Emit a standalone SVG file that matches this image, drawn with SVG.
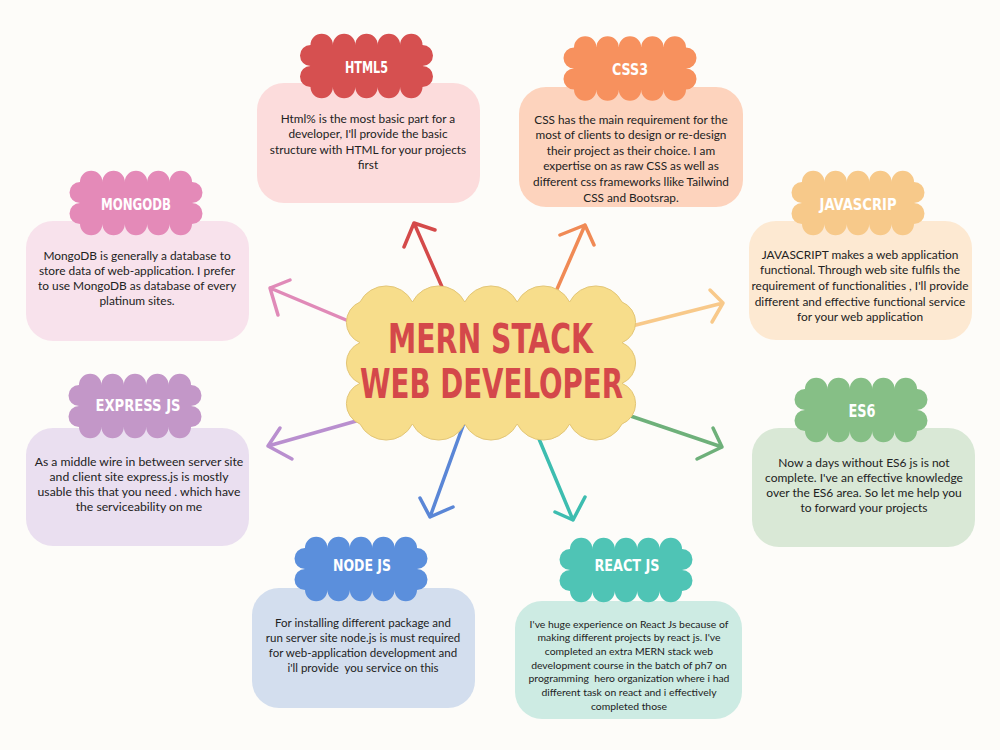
<svg xmlns="http://www.w3.org/2000/svg" width="1000" height="750" viewBox="0 0 1000 750">
  <style>
    .box { stroke: none; }
    .ttl { font-family: "DejaVu Sans Condensed", "DejaVu Sans", sans-serif; font-weight: bold; font-size: 16px; fill: #ffffff; text-anchor: middle; }
    .body { font-family: Lato, "Noto Sans", sans-serif; font-size: 11.9px; fill: #222222; text-anchor: middle; }
    .conn path { fill: none; stroke-width: 3.5; stroke-linecap: round; stroke-linejoin: round; }
    .main { font-family: "DejaVu Sans Condensed", "DejaVu Sans", sans-serif; font-weight: bold; font-size: 40px; fill: #d4484a; text-anchor: middle; }
  </style>
  <defs>
    <path id="cloud" d="M-56,-21 A11.2,11.2 0 0 1 -33.6,-21 A11.2,11.2 0 0 1 -11.2,-21 A11.2,11.2 0 0 1 11.2,-21 A11.2,11.2 0 0 1 33.6,-21 A11.2,11.2 0 0 1 56,-21 A10.5,10.5 0 0 1 56,0 A10.5,10.5 0 0 1 56,21 A11.2,11.2 0 0 1 33.6,21 A11.2,11.2 0 0 1 11.2,21 A11.2,11.2 0 0 1 -11.2,21 A11.2,11.2 0 0 1 -33.6,21 A11.2,11.2 0 0 1 -56,21 A10.5,10.5 0 0 1 -56,0 A10.5,10.5 0 0 1 -56,-21 Z"/>
  </defs>
  <rect x="0" y="0" width="1000" height="750" fill="#fdfcf9"/>

  <g id="connectors" class="conn">
    <path stroke="#d44a4a" d="M446,296 L414,223 M404,247 L414,223 L435,230"/>
    <path stroke="#f08a55" d="M554,296 L585,225 M560,235 L585,225 L594,245"/>
    <path stroke="#e08ab8" d="M358,325 L270,288 M290,280 L270,288 L278,315"/>
    <path stroke="#f8c98a" d="M628,327 L723,303 M710,290 L723,303 L712,322"/>
    <path stroke="#b98fcf" d="M381,414 L268,446 M280,428 L268,446 L292,459"/>
    <path stroke="#6eb07a" d="M610,409 L722,447 M713,428 L722,447 L697,459"/>
    <path stroke="#5a86d6" d="M464,423 L430,517 M420,498 L430,517 L453,507"/>
    <path stroke="#3dbdb0" d="M534,427 L573,520 M555,512 L573,520 L585,497"/>
  </g>

  <g id="center">
    <path fill="#f7dd8b" stroke="#e3c677" stroke-width="1" d="M360,302 A29.4,29.4 0 0 1 412.4,302 A29.4,29.4 0 0 1 464.8,302 A29.4,29.4 0 0 1 517.2,302 A29.4,29.4 0 0 1 569.6,302 A29.4,29.4 0 0 1 622,302 A22,22 0 0 1 622,342.67 A22,22 0 0 1 622,383.33 A22,22 0 0 1 622,424 A29.4,29.4 0 0 1 569.6,424 A29.4,29.4 0 0 1 517.2,424 A29.4,29.4 0 0 1 464.8,424 A29.4,29.4 0 0 1 412.4,424 A29.4,29.4 0 0 1 360,424 A22,22 0 0 1 360,383.33 A22,22 0 0 1 360,342.67 A22,22 0 0 1 360,302 Z"/>
    <text class="main" x="490.5" y="353" textLength="205" lengthAdjust="spacingAndGlyphs">MERN STACK</text>
    <text class="main" x="491.5" y="398" textLength="263" lengthAdjust="spacingAndGlyphs">WEB DEVELOPER</text>
  </g>

  <g id="html5">
    <rect class="box" x="257" y="83" width="223" height="120" rx="27" fill="#fcdcdc"/>
    <use href="#cloud" transform="translate(366.5,66)" fill="#d65050"/>
    <text class="ttl" x="366.5" y="73" textLength="43" lengthAdjust="spacingAndGlyphs">HTML5</text>
    <text class="body" x="368" y="122.5" style="font-size:11.8px">Html% is the most basic part for a</text>
    <text class="body" x="368" y="138" style="font-size:11.8px">developer, I'll provide the basic</text>
    <text class="body" x="368" y="153.5" style="font-size:11.8px">structure with HTML for your projects</text>
    <text class="body" x="368" y="169" style="font-size:11.8px">first</text>
  </g>

  <g id="css3">
    <rect class="box" x="519" y="87" width="224" height="120" rx="27" fill="#fdd3bd"/>
    <use href="#cloud" transform="translate(630,68.5)" fill="#f7915e"/>
    <text class="ttl" x="630" y="75" textLength="36" lengthAdjust="spacingAndGlyphs">CSS3</text>
    <text class="body" x="631" y="123.5" style="font-size:11.8px">CSS has the main requirement for the</text>
    <text class="body" x="631" y="139.1" style="font-size:11.8px">most of clients to design or re-design</text>
    <text class="body" x="631" y="154.7" style="font-size:11.8px">their project as their choice. I am</text>
    <text class="body" x="631" y="170.3" style="font-size:11.8px">expertise on as raw CSS as well as</text>
    <text class="body" x="631" y="185.9" style="font-size:11.8px">different css frameworks llike Tailwind</text>
    <text class="body" x="631" y="201.5" style="font-size:11.8px">CSS and Bootsrap.</text>
  </g>

  <g id="mongodb">
    <rect class="box" x="26" y="221" width="223" height="120" rx="27" fill="#f8e2ec"/>
    <use href="#cloud" transform="translate(136,203)" fill="#e48ab8"/>
    <text class="ttl" x="136" y="209.5" textLength="70" lengthAdjust="spacingAndGlyphs">MONGODB</text>
    <text class="body" x="137" y="259.5">MongoDB is generally a database to</text>
    <text class="body" x="137" y="274.8">store data of web-application. I prefer</text>
    <text class="body" x="137" y="290.1">to use MongoDB as database of every</text>
    <text class="body" x="137" y="305.4">platinum sites.</text>
  </g>

  <g id="javascript">
    <rect class="box" x="749" y="221" width="223" height="119" rx="27" fill="#fde9d2"/>
    <use href="#cloud" transform="translate(858,203)" fill="#f7c98a"/>
    <text class="ttl" x="858" y="209.5" textLength="77" lengthAdjust="spacingAndGlyphs">JAVASCRIP</text>
    <text class="body" x="860" y="258.5">JAVASCRIPT makes a web application</text>
    <text class="body" x="860" y="274.2">functional. Through web site fulfils the</text>
    <text class="body" x="860" y="289.9">requirement of functionalities , I'll provide</text>
    <text class="body" x="860" y="305.6">different and effective functional service</text>
    <text class="body" x="860" y="321.3">for your web application</text>
  </g>

  <g id="expressjs">
    <rect class="box" x="26" y="428" width="223" height="118" rx="27" fill="#eadff0"/>
    <use href="#cloud" transform="translate(135,406)" fill="#c397c8"/>
    <text class="ttl" x="138" y="411" textLength="85" lengthAdjust="spacingAndGlyphs">EXPRESS JS</text>
    <text class="body" x="139" y="465.5" style="font-size:12.2px">As a middle wire in between server site</text>
    <text class="body" x="139" y="480.5" style="font-size:12.2px">and client site express.js is mostly</text>
    <text class="body" x="139" y="495.5" style="font-size:12.2px">usable this that you need . which have</text>
    <text class="body" x="139" y="510.5" style="font-size:12.2px">the serviceability on me</text>
  </g>

  <g id="es6">
    <rect class="box" x="752" y="428" width="223" height="119" rx="27" fill="#d9e8d6"/>
    <use href="#cloud" transform="translate(861,410)" fill="#86bf86"/>
    <text class="ttl" x="862" y="416.5" textLength="27" lengthAdjust="spacingAndGlyphs" style="font-size:18px">ES6</text>
    <text class="body" x="864" y="466.5" style="font-size:12px">Now a days without ES6 js is not</text>
    <text class="body" x="864" y="481.5" style="font-size:12px">complete. I've an effective knowledge</text>
    <text class="body" x="864" y="496.5" style="font-size:12px">over the ES6 area. So let me help you</text>
    <text class="body" x="864" y="511.5" style="font-size:12px">to forward your projects</text>
  </g>

  <g id="nodejs">
    <rect class="box" x="252" y="588" width="223" height="120" rx="27" fill="#d3deee"/>
    <use href="#cloud" transform="translate(361,569)" fill="#5b8fdc"/>
    <text class="ttl" x="362" y="571" textLength="58" lengthAdjust="spacingAndGlyphs">NODE JS</text>
    <text class="body" x="363" y="626.5" style="font-size:11.5px">For installing different package and</text>
    <text class="body" x="363" y="641.5" style="font-size:11.5px">run server site node.js is must required</text>
    <text class="body" x="363" y="656.5" style="font-size:11.5px">for web-application development and</text>
    <text class="body" x="363" y="671.5" style="font-size:11.5px" xml:space="preserve">i'll provide  you service on this</text>
  </g>

  <g id="reactjs">
    <rect class="box" x="515" y="601" width="227" height="118" rx="27" fill="#cdebe3"/>
    <use href="#cloud" transform="translate(626,570)" fill="#4fc4b5"/>
    <text class="ttl" x="627" y="571" textLength="65" lengthAdjust="spacingAndGlyphs">REACT JS</text>
    <text class="body" x="629" y="627.5" style="font-size:10.4px">I've huge experience on React Js because of</text>
    <text class="body" x="629" y="641.2" style="font-size:10.4px">making different projects by react js. I've</text>
    <text class="body" x="629" y="654.9" style="font-size:10.4px">completed an extra MERN stack web</text>
    <text class="body" x="629" y="668.6" style="font-size:10.4px">development course in the batch of ph7 on</text>
    <text class="body" x="629" y="682.3" style="font-size:10.4px" xml:space="preserve">programming  hero organization where i had</text>
    <text class="body" x="629" y="696" style="font-size:10.4px">different task on react and i effectively</text>
    <text class="body" x="629" y="709.7" style="font-size:10.4px">completed those</text>
  </g>
</svg>
